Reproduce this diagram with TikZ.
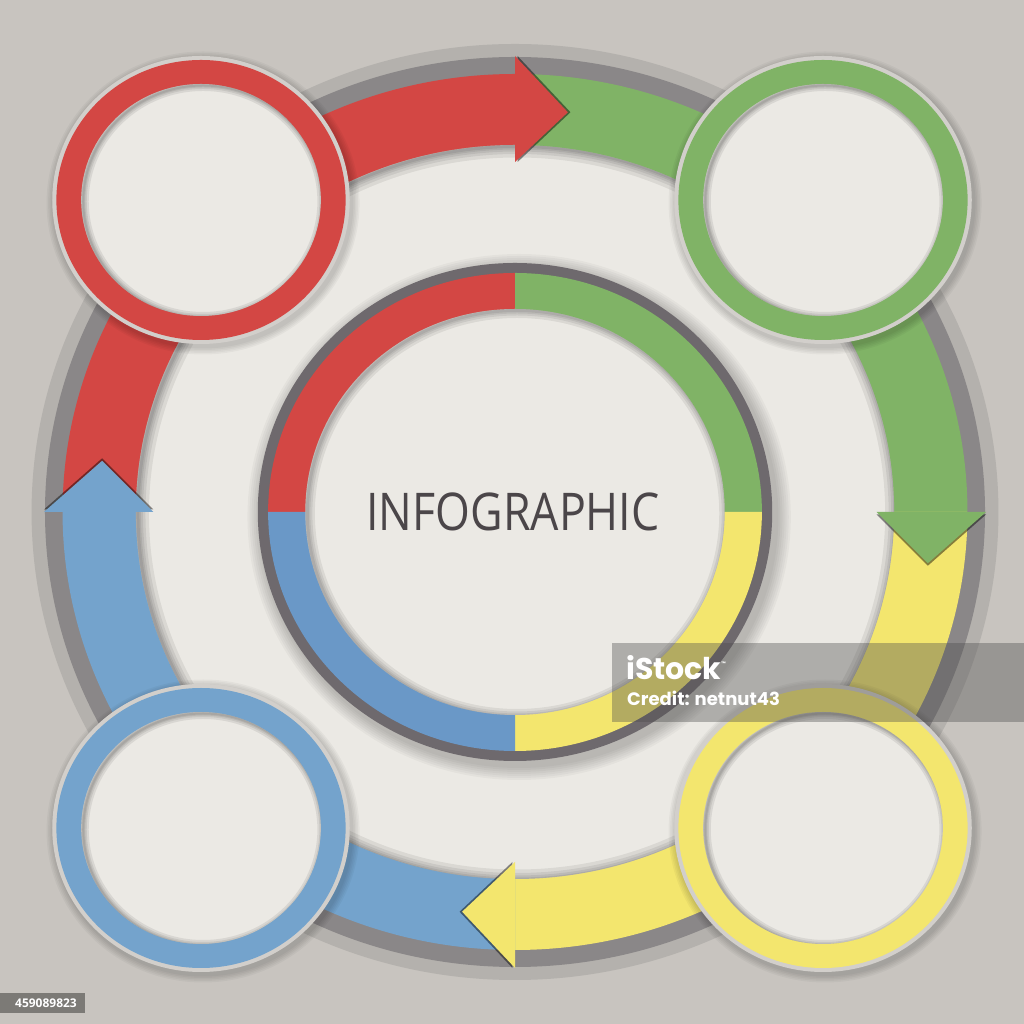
\documentclass[tikz,border=0pt]{standalone}
\usepackage{fontspec}
\setmainfont{Open Sans}
\newfontfamily\popfont{Poppins}
\definecolor{bgc}{HTML}{C8C4BF}
\definecolor{ringlight}{HTML}{B4B1AD}
\definecolor{ringdark}{HTML}{8A8788}
\definecolor{discc}{HTML}{EBE9E4}
\definecolor{redc}{HTML}{D34744}
\definecolor{greenc}{HTML}{80B366}
\definecolor{yellowc}{HTML}{F3E66E}
\definecolor{bluec}{HTML}{74A3CC}
\definecolor{innerblue}{HTML}{6A98C7}
\definecolor{borderc}{HTML}{6E696D}
\definecolor{cornerborder}{HTML}{D2CFCB}
\definecolor{textc}{HTML}{4B4649}
\tikzset{
  headshadow/.style={fill=black,opacity=0.45},
  wmtext/.style={text=white,inner sep=0pt,anchor=base west},
}
\newcommand{\insetshadow}[3]{% radius, opacity, widths
  \begin{scope}
    \clip (0,0) circle[radius=#1];
    \foreach \w in {#3}
      \draw[black,opacity=#2,line width=\w pt] (2,-1.5) circle[radius=#1];
  \end{scope}}
\newcommand{\bandseg}[3]{% from, to, colour
  \fill[#3] (#1:438) arc[start angle=#1,end angle=#2,radius=438]
    -- (#2:366) arc[start angle=#2,end angle=#1,radius=366] -- cycle;}
\newcommand{\arrowtip}[2]{% base angle, colour
  \begin{scope}[shift={(#1-90:2.5)}]
    \fill[headshadow] (#1:350) -- (#1-7.3:403) -- (#1:456) -- cycle;
  \end{scope}
  \fill[#2] (#1:350) -- (#1-7.3:403) -- (#1:456) -- cycle;}
\newcommand{\cornercircle}[3]{% x, y, colour
  \begin{scope}[shift={(#1,#2)},xscale=1.033]
    \foreach \i in {1,...,5}
      \fill[black,opacity=0.035] (2,-3) circle[radius=144+\i*1.5];
    \fill[cornerborder] (0,0) circle[radius=144];
    \fill[#3] (0,0) circle[radius=140];
    \fill[discc] (0,0) circle[radius=116];
    \insetshadow{116}{0.08}{2,4,7,11}
  \end{scope}}
\begin{document}
\begin{tikzpicture}[x=1pt,y=1pt]
\useasboundingbox (0,0) rectangle (1024,1024);
\fill[bgc] (0,0) rectangle (1024,1024);
\coordinate (center) at (515,512);
% outer big ring
\begin{scope}[shift={(center)},xscale=1.033]
  \fill[ringlight] (0,0) circle[radius=468];
  \fill[ringdark] (0,0) circle[radius=455];
  \bandseg{180}{90}{redc}
  \bandseg{90}{0}{greenc}
  \bandseg{0}{-90}{yellowc}
  \bandseg{-90}{-180}{bluec}
  \fill[discc] (0,0) circle[radius=367];
  \insetshadow{367}{0.07}{3,6,10,15,22}
  \arrowtip{90}{redc}
  \arrowtip{0}{greenc}
  \arrowtip{-90}{yellowc}
  \arrowtip{180}{bluec}
\end{scope}
% corner circles
\cornercircle{201}{824}{redc}
\cornercircle{823}{824}{greenc}
\cornercircle{201}{196}{bluec}
\cornercircle{823}{196}{yellowc}
\coordinate (tl) at (201,824);
\coordinate (tr) at (823,824);
\coordinate (bl) at (201,196);
\coordinate (br) at (823,196);
% inner ring
\begin{scope}[shift={(center)},xscale=1.033]
  \foreach \i in {1,...,7}
    \fill[black,opacity=0.03] (4,-5) circle[radius=249+\i*2];
  \fill[borderc] (0,0) circle[radius=249];
  \fill[redc] (90:239) arc[start angle=90,end angle=180,radius=239] -- (0,0) -- cycle;
  \fill[greenc] (0:239) arc[start angle=0,end angle=90,radius=239] -- (0,0) -- cycle;
  \fill[yellowc] (-90:239) arc[start angle=-90,end angle=0,radius=239] -- (0,0) -- cycle;
  \fill[innerblue] (180:239) arc[start angle=180,end angle=270,radius=239] -- (0,0) -- cycle;
  \fill[discc] (0,0) circle[radius=203];
  \insetshadow{203}{0.07}{3,6,10,15}
\end{scope}
\node[text=textc,font=\fontsize{52}{60}\selectfont,inner sep=0pt,xscale=0.86] (title) at (513,512) {INFOGRAPHIC};
% watermark
\fill[black!70,opacity=0.38] (612,302) rectangle (1024,381);
\node[wmtext,font=\popfont\bfseries\fontsize{30}{34}\selectfont] (istock) at (626,344) {iStock\raisebox{14pt}{\fontsize{5}{6}\selectfont ™}};
\node[wmtext,font=\popfont\bfseries\fontsize{18}{22}\selectfont] (credit) at (627,318) {Credit: netnut43};
\fill[black!38!bgc] (0,11) rectangle (85,31);
\node[text=white,font=\bfseries\fontsize{12}{14}\selectfont,inner sep=0pt] (imgid) at (46,21) {459089823};
\end{tikzpicture}
\end{document}
